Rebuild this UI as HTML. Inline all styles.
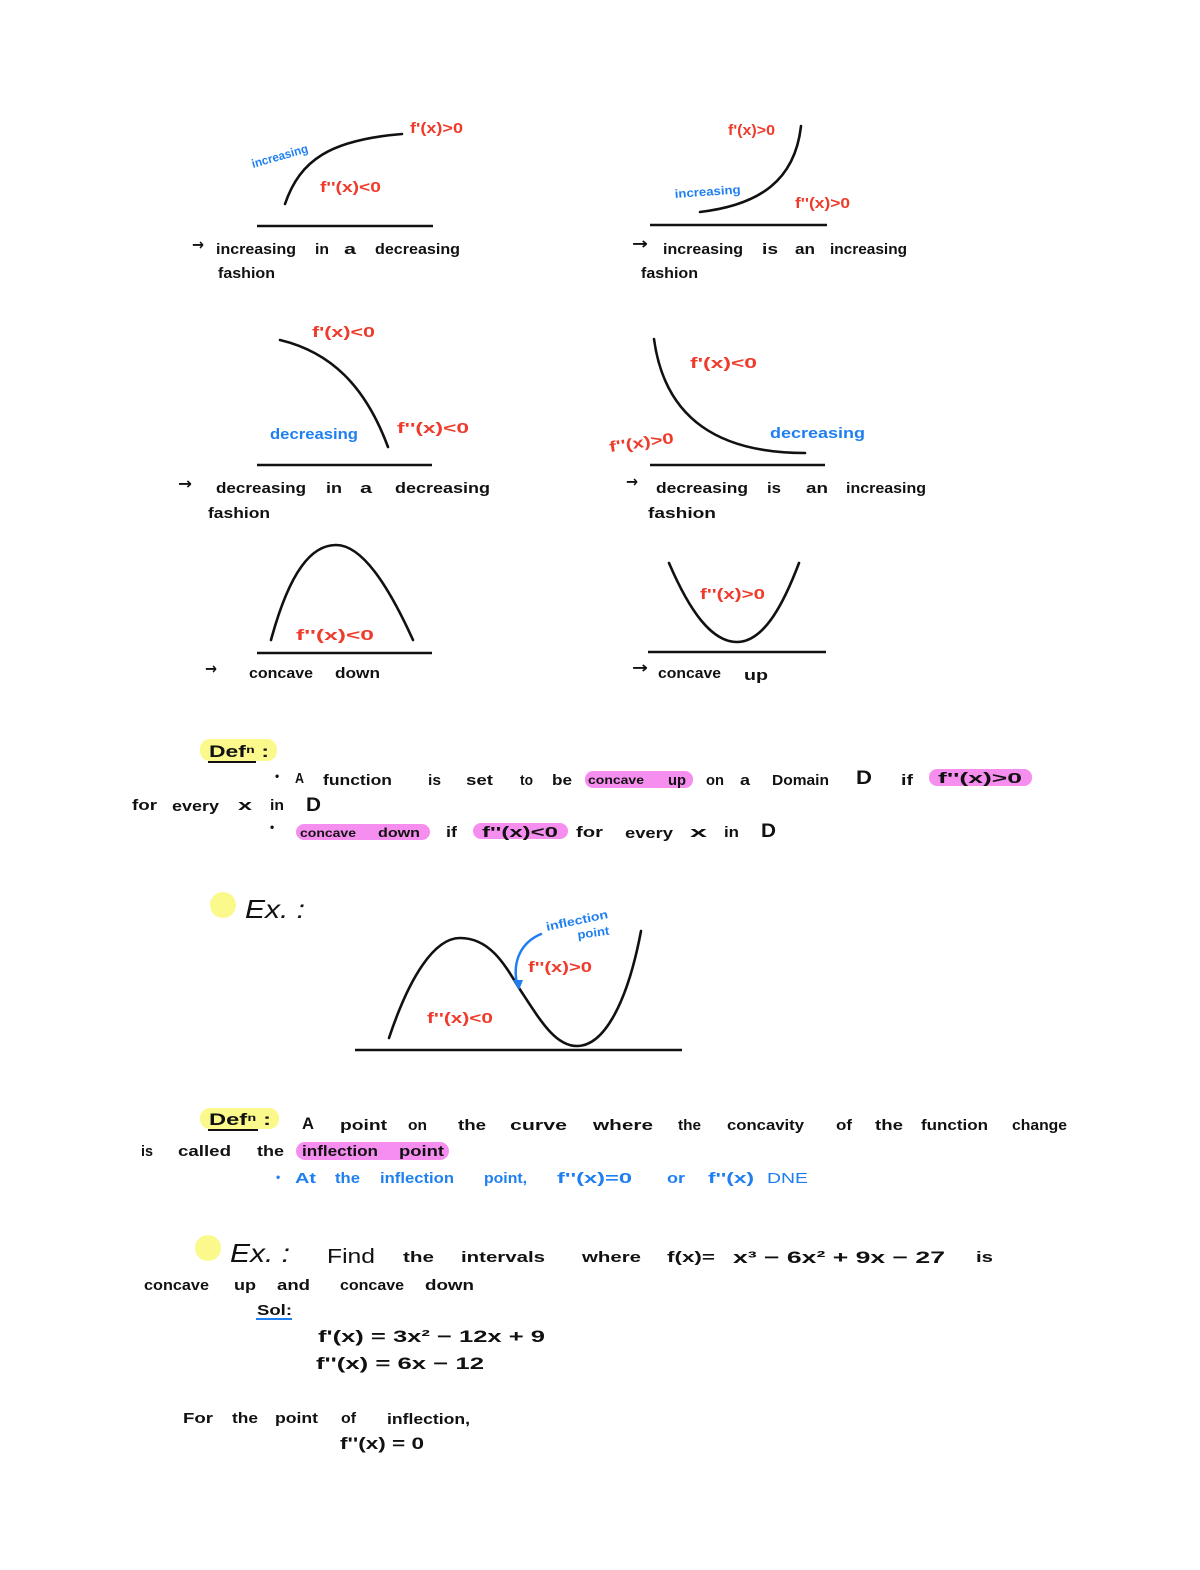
<!DOCTYPE html>
<html><head><meta charset="utf-8">
<style>
html,body{margin:0;padding:0;background:#fff;}
svg{display:block;}
text{font-family:"Liberation Sans","DejaVu Sans",sans-serif;font-weight:bold;font-size:15px;}
.k{fill:#111;}
.r{fill:#ee3b2c;}
.b{fill:#1f7ff0;}
.ar{font-family:"DejaVu Sans",sans-serif;font-size:16px;}
.c{fill:none;stroke:#111;stroke-width:2.6;stroke-linecap:round;}
.ax{stroke:#111;stroke-width:2.6;}
</style></head>
<body>
<svg width="1200" height="1570" viewBox="0 0 1200 1570" xmlns="http://www.w3.org/2000/svg">

<!-- ===== Row 1 left ===== -->
<path class="c" d="M285,204 C300,160 330,140 402,134"/>
<line class="ax" x1="257" y1="226" x2="433" y2="226"/>
<text class="r" x="410" y="133" textLength="53" lengthAdjust="spacingAndGlyphs">f'(x)&gt;0</text>
<text class="r" x="320" y="192" textLength="61" lengthAdjust="spacingAndGlyphs">f''(x)&lt;0</text>
<text class="b" x="253" y="168" textLength="58" lengthAdjust="spacingAndGlyphs" transform="rotate(-16 253 168)" style="font-size:12px">increasing</text>
<text class="k ar" x="192" y="250" textLength="12" lengthAdjust="spacingAndGlyphs">→</text>
<text class="k" x="216" y="254" textLength="80" lengthAdjust="spacingAndGlyphs">increasing</text>
<text class="k" x="315" y="254" textLength="14" lengthAdjust="spacingAndGlyphs">in</text>
<text class="k" x="344" y="254" textLength="12" lengthAdjust="spacingAndGlyphs">a</text>
<text class="k" x="375" y="254" textLength="85" lengthAdjust="spacingAndGlyphs">decreasing</text>
<text class="k" x="218" y="278" textLength="57" lengthAdjust="spacingAndGlyphs">fashion</text>

<!-- ===== Row 1 right ===== -->
<path class="c" d="M700,212 C760,205 795,180 801,126"/>
<line class="ax" x1="650" y1="225" x2="827" y2="225"/>
<text class="r" x="728" y="135" textLength="47" lengthAdjust="spacingAndGlyphs">f'(x)&gt;0</text>
<text class="r" x="795" y="208" textLength="55" lengthAdjust="spacingAndGlyphs">f''(x)&gt;0</text>
<text class="b" x="675" y="198" textLength="66" lengthAdjust="spacingAndGlyphs" transform="rotate(-4 675 198)" style="font-size:12px">increasing</text>
<text class="k ar" x="632" y="249" textLength="16" lengthAdjust="spacingAndGlyphs">→</text>
<text class="k" x="663" y="254" textLength="80" lengthAdjust="spacingAndGlyphs">increasing</text>
<text class="k" x="762" y="254" textLength="16" lengthAdjust="spacingAndGlyphs">is</text>
<text class="k" x="795" y="254" textLength="20" lengthAdjust="spacingAndGlyphs">an</text>
<text class="k" x="830" y="254" textLength="77" lengthAdjust="spacingAndGlyphs">increasing</text>
<text class="k" x="641" y="278" textLength="57" lengthAdjust="spacingAndGlyphs">fashion</text>

<!-- ===== Row 2 left ===== -->
<path class="c" d="M280,340 C330,352 365,385 388,447"/>
<line class="ax" x1="257" y1="465" x2="432" y2="465"/>
<text class="r" x="312" y="337" textLength="63" lengthAdjust="spacingAndGlyphs">f'(x)&lt;0</text>
<text class="r" x="397" y="433" textLength="72" lengthAdjust="spacingAndGlyphs">f''(x)&lt;0</text>
<text class="b" x="270" y="439" textLength="88" lengthAdjust="spacingAndGlyphs">decreasing</text>
<text class="k ar" x="178" y="489" textLength="14" lengthAdjust="spacingAndGlyphs">→</text>
<text class="k" x="216" y="493" textLength="90" lengthAdjust="spacingAndGlyphs">decreasing</text>
<text class="k" x="326" y="493" textLength="16" lengthAdjust="spacingAndGlyphs">in</text>
<text class="k" x="360" y="493" textLength="12" lengthAdjust="spacingAndGlyphs">a</text>
<text class="k" x="395" y="493" textLength="95" lengthAdjust="spacingAndGlyphs">decreasing</text>
<text class="k" x="208" y="518" textLength="62" lengthAdjust="spacingAndGlyphs">fashion</text>

<!-- ===== Row 2 right ===== -->
<path class="c" d="M654,339 C665,420 720,453 805,453"/>
<line class="ax" x1="650" y1="465" x2="825" y2="465"/>
<text class="r" x="690" y="368" textLength="67" lengthAdjust="spacingAndGlyphs">f'(x)&lt;0</text>
<text class="r" x="610" y="452" textLength="65" lengthAdjust="spacingAndGlyphs" transform="rotate(-8 610 452)">f''(x)&gt;0</text>
<text class="b" x="770" y="438" textLength="95" lengthAdjust="spacingAndGlyphs">decreasing</text>
<text class="k ar" x="626" y="487" textLength="12" lengthAdjust="spacingAndGlyphs">→</text>
<text class="k" x="656" y="493" textLength="92" lengthAdjust="spacingAndGlyphs">decreasing</text>
<text class="k" x="767" y="493" textLength="14" lengthAdjust="spacingAndGlyphs">is</text>
<text class="k" x="806" y="493" textLength="22" lengthAdjust="spacingAndGlyphs">an</text>
<text class="k" x="846" y="493" textLength="80" lengthAdjust="spacingAndGlyphs">increasing</text>
<text class="k" x="648" y="518" textLength="68" lengthAdjust="spacingAndGlyphs">fashion</text>

<!-- ===== Row 3 left ===== -->
<path class="c" d="M271,640 C290,570 312,545 336,545 C362,545 388,585 413,640"/>
<line class="ax" x1="257" y1="653" x2="432" y2="653"/>
<text class="r" x="296" y="640" textLength="78" lengthAdjust="spacingAndGlyphs">f''(x)&lt;0</text>
<text class="k ar" x="205" y="674" textLength="12" lengthAdjust="spacingAndGlyphs">→</text>
<text class="k" x="249" y="678" textLength="64" lengthAdjust="spacingAndGlyphs">concave</text>
<text class="k" x="335" y="678" textLength="45" lengthAdjust="spacingAndGlyphs">down</text>

<!-- ===== Row 3 right ===== -->
<path class="c" d="M669,563 C690,612 712,642 737,642 C765,642 785,600 799,563"/>
<line class="ax" x1="648" y1="652" x2="826" y2="652"/>
<text class="r" x="700" y="599" textLength="65" lengthAdjust="spacingAndGlyphs">f''(x)&gt;0</text>
<text class="k ar" x="632" y="673" textLength="16" lengthAdjust="spacingAndGlyphs">→</text>
<text class="k" x="658" y="678" textLength="63" lengthAdjust="spacingAndGlyphs">concave</text>
<text class="k" x="744" y="680" textLength="24" lengthAdjust="spacingAndGlyphs">up</text>

<!-- ===== Def 1 ===== -->
<rect x="200" y="739" width="77" height="22" rx="10" fill="#fbf98c"/>
<text class="k" x="209" y="757" textLength="60" lengthAdjust="spacingAndGlyphs" style="font-size:17px">Defⁿ :</text>
<line x1="208" y1="762" x2="256" y2="762" stroke="#111" stroke-width="2"/>

<rect x="585" y="771" width="108" height="17" rx="8" fill="#f68ef0"/>
<rect x="929" y="769" width="103" height="17" rx="8" fill="#f68ef0"/>
<text class="k" x="275" y="780" style="font-size:12px">•</text>
<text class="k" x="295" y="783" textLength="9" lengthAdjust="spacingAndGlyphs">A</text>
<text class="k" x="323" y="785" textLength="69" lengthAdjust="spacingAndGlyphs">function</text>
<text class="k" x="428" y="785" textLength="13" lengthAdjust="spacingAndGlyphs">is</text>
<text class="k" x="466" y="785" textLength="27" lengthAdjust="spacingAndGlyphs">set</text>
<text class="k" x="520" y="785" textLength="13" lengthAdjust="spacingAndGlyphs">to</text>
<text class="k" x="552" y="785" textLength="20" lengthAdjust="spacingAndGlyphs">be</text>
<text class="k" x="588" y="784" textLength="56" lengthAdjust="spacingAndGlyphs" style="font-size:12px">concave</text>
<text class="k" x="668" y="785" textLength="18" lengthAdjust="spacingAndGlyphs">up</text>
<text class="k" x="706" y="785" textLength="18" lengthAdjust="spacingAndGlyphs">on</text>
<text class="k" x="740" y="785" textLength="10" lengthAdjust="spacingAndGlyphs">a</text>
<text class="k" x="772" y="785" textLength="57" lengthAdjust="spacingAndGlyphs">Domain</text>
<text class="k" x="856" y="784" textLength="16" lengthAdjust="spacingAndGlyphs" style="font-size:19px">D</text>
<text class="k" x="901" y="785" textLength="12" lengthAdjust="spacingAndGlyphs">if</text>
<text class="k" x="938" y="783" textLength="84" lengthAdjust="spacingAndGlyphs">f''(x)&gt;0</text>

<text class="k" x="132" y="810" textLength="25" lengthAdjust="spacingAndGlyphs">for</text>
<text class="k" x="172" y="811" textLength="47" lengthAdjust="spacingAndGlyphs">every</text>
<text class="k" x="238" y="810" textLength="14" lengthAdjust="spacingAndGlyphs">x</text>
<text class="k" x="270" y="810" textLength="14" lengthAdjust="spacingAndGlyphs">in</text>
<text class="k" x="306" y="811" textLength="15" lengthAdjust="spacingAndGlyphs" style="font-size:19px">D</text>

<rect x="296" y="824" width="134" height="16" rx="8" fill="#f68ef0"/>
<rect x="473" y="823" width="95" height="16" rx="8" fill="#f68ef0"/>
<text class="k" x="270" y="831" style="font-size:12px">•</text>
<text class="k" x="300" y="837" textLength="56" lengthAdjust="spacingAndGlyphs" style="font-size:12px">concave</text>
<text class="k" x="378" y="837" textLength="42" lengthAdjust="spacingAndGlyphs" style="font-size:13px">down</text>
<text class="k" x="446" y="837" textLength="11" lengthAdjust="spacingAndGlyphs">if</text>
<text class="k" x="482" y="837" textLength="76" lengthAdjust="spacingAndGlyphs">f''(x)&lt;0</text>
<text class="k" x="576" y="837" textLength="27" lengthAdjust="spacingAndGlyphs">for</text>
<text class="k" x="625" y="838" textLength="48" lengthAdjust="spacingAndGlyphs">every</text>
<text class="k" x="690" y="837" textLength="17" lengthAdjust="spacingAndGlyphs">x</text>
<text class="k" x="724" y="837" textLength="15" lengthAdjust="spacingAndGlyphs">in</text>
<text class="k" x="761" y="837" textLength="15" lengthAdjust="spacingAndGlyphs" style="font-size:19px">D</text>

<!-- ===== Ex 1 ===== -->
<circle cx="223" cy="905" r="13" fill="#fbf98c"/>
<text class="k" x="245" y="918" textLength="60" lengthAdjust="spacingAndGlyphs" style="font-size:26px;font-weight:normal;font-style:italic">Ex. :</text>
<path class="c" d="M389,1038 C410,975 435,938 460,938 C490,938 505,965 519,988 C540,1020 555,1046 577,1046 C605,1046 628,1000 641,931"/>
<line class="ax" x1="355" y1="1050" x2="682" y2="1050"/>
<text class="r" x="427" y="1023" textLength="66" lengthAdjust="spacingAndGlyphs">f''(x)&lt;0</text>
<text class="r" x="528" y="972" textLength="64" lengthAdjust="spacingAndGlyphs">f''(x)&gt;0</text>
<path d="M541,934 C522,942 512,960 517,984" fill="none" stroke="#1f7ff0" stroke-width="2.5" stroke-linecap="round"/>
<path d="M513,980 L519,990 L523,980 Z" fill="#1f7ff0"/>
<text class="b" x="547" y="931" textLength="63" lengthAdjust="spacingAndGlyphs" transform="rotate(-12 547 931)" style="font-size:12px">inflection</text>
<text class="b" x="578" y="939" textLength="32" lengthAdjust="spacingAndGlyphs" transform="rotate(-8 578 939)" style="font-size:12px">point</text>

<!-- ===== Def 2 ===== -->
<rect x="200" y="1108" width="79" height="21" rx="10" fill="#fbf98c"/>
<text class="k" x="209" y="1125" textLength="62" lengthAdjust="spacingAndGlyphs" style="font-size:17px">Defⁿ :</text>
<line x1="208" y1="1130" x2="258" y2="1130" stroke="#111" stroke-width="2"/>
<text class="k" x="302" y="1129" textLength="12" lengthAdjust="spacingAndGlyphs" style="font-size:17px">A</text>
<text class="k" x="340" y="1130" textLength="47" lengthAdjust="spacingAndGlyphs">point</text>
<text class="k" x="408" y="1130" textLength="19" lengthAdjust="spacingAndGlyphs">on</text>
<text class="k" x="458" y="1130" textLength="28" lengthAdjust="spacingAndGlyphs">the</text>
<text class="k" x="510" y="1130" textLength="57" lengthAdjust="spacingAndGlyphs">curve</text>
<text class="k" x="593" y="1130" textLength="60" lengthAdjust="spacingAndGlyphs">where</text>
<text class="k" x="678" y="1130" textLength="23" lengthAdjust="spacingAndGlyphs">the</text>
<text class="k" x="727" y="1130" textLength="77" lengthAdjust="spacingAndGlyphs">concavity</text>
<text class="k" x="836" y="1130" textLength="16" lengthAdjust="spacingAndGlyphs">of</text>
<text class="k" x="875" y="1130" textLength="28" lengthAdjust="spacingAndGlyphs">the</text>
<text class="k" x="921" y="1130" textLength="67" lengthAdjust="spacingAndGlyphs">function</text>
<text class="k" x="1012" y="1130" textLength="55" lengthAdjust="spacingAndGlyphs">change</text>

<rect x="296" y="1142" width="153" height="18" rx="9" fill="#f68ef0"/>
<text class="k" x="141" y="1156" textLength="12" lengthAdjust="spacingAndGlyphs">is</text>
<text class="k" x="178" y="1156" textLength="53" lengthAdjust="spacingAndGlyphs">called</text>
<text class="k" x="257" y="1156" textLength="27" lengthAdjust="spacingAndGlyphs">the</text>
<text class="k" x="302" y="1156" textLength="76" lengthAdjust="spacingAndGlyphs">inflection</text>
<text class="k" x="399" y="1156" textLength="45" lengthAdjust="spacingAndGlyphs">point</text>

<text class="b" x="276" y="1181" style="font-size:12px">•</text>
<text class="b" x="295" y="1183" textLength="21" lengthAdjust="spacingAndGlyphs">At</text>
<text class="b" x="335" y="1183" textLength="25" lengthAdjust="spacingAndGlyphs">the</text>
<text class="b" x="380" y="1183" textLength="74" lengthAdjust="spacingAndGlyphs">inflection</text>
<text class="b" x="484" y="1183" textLength="43" lengthAdjust="spacingAndGlyphs">point,</text>
<text class="b" x="557" y="1183" textLength="75" lengthAdjust="spacingAndGlyphs">f''(x)=0</text>
<text class="b" x="667" y="1183" textLength="18" lengthAdjust="spacingAndGlyphs">or</text>
<text class="b" x="708" y="1183" textLength="46" lengthAdjust="spacingAndGlyphs">f''(x)</text>
<text class="b" x="767" y="1183" textLength="41" lengthAdjust="spacingAndGlyphs" style="font-weight:normal">DNE</text>

<!-- ===== Ex 2 ===== -->
<circle cx="208" cy="1248" r="13" fill="#fbf98c"/>
<text class="k" x="230" y="1262" textLength="60" lengthAdjust="spacingAndGlyphs" style="font-size:26px;font-weight:normal;font-style:italic">Ex. :</text>
<text class="k" x="327" y="1263" textLength="48" lengthAdjust="spacingAndGlyphs" style="font-size:20px;font-weight:normal">Find</text>
<text class="k" x="403" y="1262" textLength="31" lengthAdjust="spacingAndGlyphs">the</text>
<text class="k" x="461" y="1262" textLength="84" lengthAdjust="spacingAndGlyphs">intervals</text>
<text class="k" x="582" y="1262" textLength="59" lengthAdjust="spacingAndGlyphs">where</text>
<text class="k" x="667" y="1262" textLength="48" lengthAdjust="spacingAndGlyphs">f(x)=</text>
<text class="k" x="733" y="1263" textLength="212" lengthAdjust="spacingAndGlyphs" style="font-size:17px">x³ − 6x² + 9x − 27</text>
<text class="k" x="976" y="1262" textLength="17" lengthAdjust="spacingAndGlyphs">is</text>

<text class="k" x="144" y="1290" textLength="65" lengthAdjust="spacingAndGlyphs">concave</text>
<text class="k" x="234" y="1290" textLength="22" lengthAdjust="spacingAndGlyphs">up</text>
<text class="k" x="277" y="1290" textLength="33" lengthAdjust="spacingAndGlyphs">and</text>
<text class="k" x="340" y="1290" textLength="64" lengthAdjust="spacingAndGlyphs">concave</text>
<text class="k" x="425" y="1290" textLength="49" lengthAdjust="spacingAndGlyphs">down</text>

<text class="k" x="257" y="1315" textLength="35" lengthAdjust="spacingAndGlyphs">Sol:</text>
<line x1="256" y1="1319" x2="292" y2="1319" stroke="#1f7ff0" stroke-width="2"/>

<text class="k" x="318" y="1342" textLength="227" lengthAdjust="spacingAndGlyphs" style="font-size:17px">f'(x) = 3x² − 12x + 9</text>
<text class="k" x="316" y="1369" textLength="168" lengthAdjust="spacingAndGlyphs" style="font-size:17px">f''(x) =  6x − 12</text>

<text class="k" x="183" y="1423" textLength="30" lengthAdjust="spacingAndGlyphs">For</text>
<text class="k" x="232" y="1423" textLength="26" lengthAdjust="spacingAndGlyphs">the</text>
<text class="k" x="275" y="1423" textLength="43" lengthAdjust="spacingAndGlyphs">point</text>
<text class="k" x="341" y="1423" textLength="15" lengthAdjust="spacingAndGlyphs">of</text>
<text class="k" x="387" y="1424" textLength="83" lengthAdjust="spacingAndGlyphs">inflection,</text>
<text class="k" x="340" y="1449" textLength="84" lengthAdjust="spacingAndGlyphs" style="font-size:17px">f''(x) = 0</text>

</svg>
</body></html>
